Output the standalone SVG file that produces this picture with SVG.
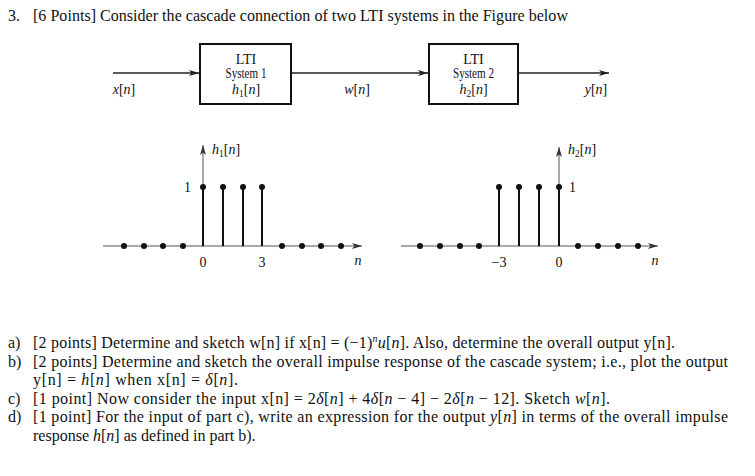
<svg xmlns="http://www.w3.org/2000/svg" width="755" height="476" viewBox="0 0 755 476">
<defs>
<style>
text{font-family:"Liberation Serif","Times New Roman",serif;fill:#111}
.q{font-size:16px}
.f{font-size:14px}
.i{font-style:italic}
.sub{font-size:9.5px}
.blk{fill:none;stroke:#111;stroke-width:2}
.wire{stroke:#222;stroke-width:1.6;fill:none}
.ax{stroke:#555;stroke-width:1;fill:none}
.stem{stroke:#111;stroke-width:2}
.dot{fill:#111}
</style>
<marker id="ah" viewBox="0 0 10 6" refX="10" refY="3" markerWidth="10" markerHeight="6" markerUnits="userSpaceOnUse" orient="auto">
<path d="M0,0 L10,3 L0,6 L2.5,3 Z" fill="#222"/>
</marker>
<marker id="ah2" viewBox="0 0 10 6" refX="10" refY="3" markerWidth="10" markerHeight="6" markerUnits="userSpaceOnUse" orient="auto">
<path d="M0,0 L10,3 L0,6 L2.5,3 Z" fill="#333"/>
</marker>
</defs>
<rect width="755" height="476" fill="#fff"/>

<!-- title -->
<text class="q" x="8" y="21">3.</text>
<text class="q" x="33" y="21" textLength="535" lengthAdjust="spacingAndGlyphs">[6 Points] Consider the cascade connection of two LTI systems in the Figure below</text>

<!-- block diagram connectors -->
<g id="connectors">
<line class="wire" x1="113" y1="73" x2="199" y2="73" marker-end="url(#ah)"/>
<line class="wire" x1="292" y1="73" x2="428" y2="73" marker-end="url(#ah)"/>
<line class="wire" x1="519" y1="73" x2="609" y2="73" marker-end="url(#ah)"/>
</g>
<g id="sys1">
<rect class="blk" x="200" y="44" width="91" height="60"/>
<text class="f" x="246" y="64" text-anchor="middle">LTI</text>
<text class="f" x="246" y="78" text-anchor="middle" textLength="41" lengthAdjust="spacingAndGlyphs">System 1</text>
<text class="f" x="246" y="94" text-anchor="middle"><tspan class="i">h</tspan><tspan class="sub" dy="3">1</tspan><tspan dy="-3">[</tspan><tspan class="i">n</tspan>]</text>
</g>
<g id="sys2">
<rect class="blk" x="429" y="44" width="89" height="60"/>
<text class="f" x="473.5" y="64" text-anchor="middle">LTI</text>
<text class="f" x="473.5" y="78" text-anchor="middle" textLength="41" lengthAdjust="spacingAndGlyphs">System 2</text>
<text class="f" x="473.5" y="94" text-anchor="middle"><tspan class="i">h</tspan><tspan class="sub" dy="3">2</tspan><tspan dy="-3">[</tspan><tspan class="i">n</tspan>]</text>
</g>
<g id="labels">
<text class="f" x="124" y="94" text-anchor="middle"><tspan class="i">x</tspan>[<tspan class="i">n</tspan>]</text>
<text class="f" x="357" y="94" text-anchor="middle"><tspan class="i">w</tspan>[<tspan class="i">n</tspan>]</text>
<text class="f" x="596" y="94" text-anchor="middle"><tspan class="i">y</tspan>[<tspan class="i">n</tspan>]</text>
</g>

<!-- plot h1 -->
<g id="plot1">
<line class="ax" x1="103" y1="246" x2="362" y2="246" marker-end="url(#ah2)"/>
<line class="ax" x1="203" y1="246" x2="203" y2="145" marker-end="url(#ah2)"/>
<line class="stem" x1="203" y1="246" x2="203" y2="187"/>
<line class="stem" x1="223" y1="246" x2="223" y2="187"/>
<line class="stem" x1="243" y1="246" x2="243" y2="187"/>
<line class="stem" x1="262" y1="246" x2="262" y2="187"/>
<circle class="dot" cx="203" cy="187" r="3"/><circle class="dot" cx="223" cy="187" r="3"/><circle class="dot" cx="243" cy="187" r="3"/><circle class="dot" cx="262" cy="187" r="3"/>
<circle class="dot" cx="124" cy="246" r="3"/><circle class="dot" cx="144" cy="246" r="3"/><circle class="dot" cx="163" cy="246" r="3"/><circle class="dot" cx="183" cy="246" r="3"/>
<circle class="dot" cx="282" cy="246" r="3"/><circle class="dot" cx="302" cy="246" r="3"/><circle class="dot" cx="321" cy="246" r="3"/><circle class="dot" cx="341" cy="246" r="3"/>
<text class="f" x="191" y="192" text-anchor="end">1</text>
<text class="f" x="203" y="267" text-anchor="middle">0</text>
<text class="f" x="262" y="267" text-anchor="middle">3</text>
<text class="f i" x="358" y="265" text-anchor="middle">n</text>
<text class="f" x="212" y="154"><tspan class="i">h</tspan><tspan class="sub" dy="3">1</tspan><tspan dy="-3">[</tspan><tspan class="i">n</tspan>]</text>
</g>

<!-- plot h2 -->
<g id="plot2">
<line class="ax" x1="401" y1="246" x2="658" y2="246" marker-end="url(#ah2)"/>
<line class="ax" x1="559" y1="246" x2="559" y2="147" marker-end="url(#ah2)"/>
<line class="stem" x1="499" y1="246" x2="499" y2="187"/>
<line class="stem" x1="519" y1="246" x2="519" y2="187"/>
<line class="stem" x1="539" y1="246" x2="539" y2="187"/>
<line class="stem" x1="559" y1="246" x2="559" y2="187"/>
<circle class="dot" cx="499" cy="187" r="3"/><circle class="dot" cx="519" cy="187" r="3"/><circle class="dot" cx="539" cy="187" r="3"/><circle class="dot" cx="559" cy="187" r="3"/>
<circle class="dot" cx="420" cy="246" r="3"/><circle class="dot" cx="440" cy="246" r="3"/><circle class="dot" cx="460" cy="246" r="3"/><circle class="dot" cx="479" cy="246" r="3"/>
<circle class="dot" cx="578" cy="246" r="3"/><circle class="dot" cx="598" cy="246" r="3"/><circle class="dot" cx="618" cy="246" r="3"/><circle class="dot" cx="638" cy="246" r="3"/>
<text class="f" x="569" y="192">1</text>
<text class="f" x="499" y="267" text-anchor="middle">−3</text>
<text class="f" x="559" y="267" text-anchor="middle">0</text>
<text class="f i" x="655" y="265" text-anchor="middle">n</text>
<text class="f" x="568" y="154"><tspan class="i">h</tspan><tspan class="sub" dy="3">2</tspan><tspan dy="-3">[</tspan><tspan class="i">n</tspan>]</text>
</g>

<!-- questions -->
<g id="questions">
<text class="q" x="8" y="348">a)</text>
<text class="q" x="33" y="348" textLength="642" lengthAdjust="spacing">[2 points] Determine and sketch w[n] if x[n] = (−1)<tspan class="i" font-size="10" dy="-6">n</tspan><tspan class="i" dy="6">u</tspan>[<tspan class="i">n</tspan>]. Also, determine the overall output y[n].</text>
<text class="q" x="8" y="366.5">b)</text>
<text class="q" x="33" y="366.5" textLength="695" lengthAdjust="spacing">[2 points] Determine and sketch the overall impulse response of the cascade system; i.e., plot the output</text>
<text class="q" x="33" y="385" textLength="205" lengthAdjust="spacing">y[n] = <tspan class="i">h</tspan>[<tspan class="i">n</tspan>] when x[n] = <tspan class="i">δ</tspan>[<tspan class="i">n</tspan>].</text>
<text class="q" x="8" y="403.5">c)</text>
<text class="q" x="33" y="403.5" textLength="577" lengthAdjust="spacing">[1 point] Now consider the input x[n] = 2<tspan class="i">δ</tspan>[<tspan class="i">n</tspan>] + 4<tspan class="i">δ</tspan>[<tspan class="i">n</tspan> − 4] − 2<tspan class="i">δ</tspan>[<tspan class="i">n</tspan> − 12]. Sketch <tspan class="i">w</tspan>[<tspan class="i">n</tspan>].</text>
<text class="q" x="8" y="422">d)</text>
<text class="q" x="33" y="422" textLength="695" lengthAdjust="spacing">[1 point] For the input of part c), write an expression for the output <tspan class="i">y</tspan>[<tspan class="i">n</tspan>] in terms of the overall impulse</text>
<text class="q" x="33" y="440.5">response <tspan class="i">h</tspan>[<tspan class="i">n</tspan>] as defined in part b).</text>
</g>
</svg>
